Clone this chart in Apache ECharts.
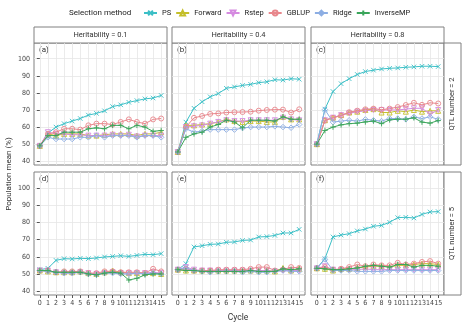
<!DOCTYPE html>
<html><head><meta charset="utf-8">
<script src="https://cdn.jsdelivr.net/npm/echarts@6/dist/echarts.min.js"></script>
<style>html,body{margin:0;padding:0;background:#fff}#c{width:474px;height:327px}</style>
</head><body><div id="c"></div>
<script>
const cycles = [0,1,2,3,4,5,6,7,8,9,10,11,12,13,14,15];
const yTicks = [40,50,60,70,80,90,100];
const methods = ['PS','Forward','Rstep','GBLUP','Ridge','InverseMP'];
const heritability = ['Heritability = 0.1','Heritability = 0.4','Heritability = 0.8'];
const qtlLabels = ['QTL number = 2','QTL number = 5'];
const panelLabels = ['(a)','(b)','(c)','(d)','(e)','(f)'];

// panel (a): heritability 0.1, QTL 2
const a_PS        = [49,56.5,60,62,63.5,65,67,68,69.5,72,73,74.5,75.5,76.5,77,78.5];
const a_Forward   = [49,56,55,56,56,56,55,55,55.5,56,56,56,55,56,56,57];
const a_Rstep     = [49,57,56,56,55.5,55.5,55,55,55,55.5,55,55.5,54.5,55,55,55];
const a_GBLUP     = [49,56,57,59,59,58.5,61,62,62,61.5,63,64.5,63,62,64.5,65];
const a_Ridge     = [49,54,53,53,53,54,54,55,54,55,55,55,54,55,55,54];
const a_InverseMP = [49,55,55,57,57,57,59,59.5,59,61,61,59,61,60,57.5,58];
// panel (b): heritability 0.4, QTL 2
const b_PS        = [45.4,62.9,71,74.8,77.7,79.6,82.7,83.5,84.4,85,86,86.5,87.7,87.5,88.3,88];
const b_Forward   = [45.4,61,61,61.5,62,63,64.5,63.5,63,63.5,63.5,63,63,66,64.5,64.5];
const b_Rstep     = [45.4,60,60.5,61,62,63,64,63.5,63.5,64,64,64,64,65.5,64.5,64];
const b_GBLUP     = [45.4,60,65.4,66.5,67.7,68,68.5,68.7,68.8,69,69.6,70,70.2,70.2,68.5,70.4];
const b_Ridge     = [45.4,59,57,57.7,58.5,58.5,58.5,58.5,59.4,60,60,60,60.4,60,59.6,61.5];
const b_InverseMP = [45.4,54,56,57,60,61.5,64,63,59.6,64,64,64,63.5,66,64.6,64.6];
// panel (c): heritability 0.8, QTL 2
const c_PS        = [50,70.5,80.8,85.4,88.3,90.8,92.5,93.3,94,94.4,94.6,95,95.2,95.6,95.6,95.4];
const c_Forward   = [50,64,65.5,67,68.5,69,70,70.5,68.5,68.5,69.5,69,70,69,69.5,69.5];
const c_Rstep     = [50,64,65.5,67,68,69,69.5,70,70,70,70,70.5,71,71,67.5,70];
const c_GBLUP     = [50,63.8,65.4,66.7,68.7,69.6,70.4,70.8,70.2,70.8,71.7,72.9,74.2,73,74.2,73.8];
const c_Ridge     = [50,70.2,62.9,63.5,64,63.5,64.5,64,63.5,65,65,64.5,66,65,66,64.5];
const c_InverseMP = [50,58,60,61.3,62,62.3,63,63.5,62,64.2,64.6,64.6,65.4,62.9,62.3,63.8];
// panel (d): heritability 0.1, QTL 5
const d_PS        = [52.5,53.3,57.9,58.9,58.7,59.1,58.9,59.3,59.9,60.2,60.6,60.2,60.8,61.4,61.2,61.8];
const d_Forward   = [52,51.5,51,51,51,51.5,50.5,50,51,52,51,50.5,50.5,50.5,50.5,50];
const d_Rstep     = [52,52,51,50.5,50.5,51,50.5,50,50.5,51,50.5,50.5,50.5,50.5,51,50.5];
const d_GBLUP     = [52,52,51,51.5,51.5,51.5,50.5,50.5,51.5,51.5,51,51,51,50.5,53,51.5];
const d_Ridge     = [52,51.5,51,50.5,50.5,51,50,49.5,50.5,50.5,50,50,50.5,50,50.5,50];
const d_InverseMP = [52,52,51,51,51,51,50,49.5,50.5,51,50.5,46.5,47.5,49.5,50,50];
// panel (e): heritability 0.4, QTL 5
const e_PS        = [52.5,56,65.7,66.4,67.2,67.4,68.4,68.6,69.5,69.7,71.5,71.7,72.4,73.8,73.8,75.9];
const e_Forward   = [52.5,52,52,52,52,52,52,52,52,52,52,52,51.5,53.5,52,53];
const e_Rstep     = [52.5,54,52.5,52,52,52,52,52,52,52,52,52,51.5,52,52,52];
const e_GBLUP     = [52.5,53,52,52,52,52.5,52.5,52.5,52.5,53,54,54,52,52.5,54,53.5];
const e_Ridge     = [52.5,53.5,52,51.5,51,51.5,51.5,51.5,51,51.5,51,51,51.5,52,51.5,51.5];
const e_InverseMP = [52.5,52,52,51.5,51.5,51.5,51.5,51.5,51.5,52,51.5,51.5,51.5,53,52.5,53];
// panel (f): heritability 0.8, QTL 5
const f_PS        = [53.3,58.9,71.5,72.6,73.4,75,76.1,77.7,78.2,80,82.7,82.9,82.5,84.6,86,86.2];
const f_Forward   = [53.3,53,52,53,53,53.5,54,54.5,54.5,54,55,55,55.5,56,56,55.5];
const f_Rstep     = [53.3,54.5,52.5,52.5,52.5,52.5,53,52.5,52.5,52.5,52.5,52.5,52.5,52.5,52.5,52.5];
const f_GBLUP     = [53.3,54,52.5,53,54,55.5,54.5,55.5,55,55,56.5,55.5,56,57,57.5,56];
const f_Ridge     = [53.3,58.5,52,52,52,51.5,51.5,51.5,51.5,52,52,52,52,52,52,52];
const f_InverseMP = [53.3,53,52.5,52.5,53,53.5,54.5,55,54.5,54,55.5,55.5,54,55,55,54.5];

const panels = [
  [a_PS,a_Forward,a_Rstep,a_GBLUP,a_Ridge,a_InverseMP],
  [b_PS,b_Forward,b_Rstep,b_GBLUP,b_Ridge,b_InverseMP],
  [c_PS,c_Forward,c_Rstep,c_GBLUP,c_Ridge,c_InverseMP],
  [d_PS,d_Forward,d_Rstep,d_GBLUP,d_Ridge,d_InverseMP],
  [e_PS,e_Forward,e_Rstep,e_GBLUP,e_Ridge,e_InverseMP],
  [f_PS,f_Forward,f_Rstep,f_GBLUP,f_Ridge,f_InverseMP]
];

const colors = ['#3CBFC6','#C4BF2A','#D58BE0','#E8878C','#8DAEE3','#3AA55A'];
const symbols = [
  'path://M0,0L10,10M10,0L0,10',
  'path://M5,0L10,9L0,9Z',
  'path://M0,0L10,0L5,9Z',
  'circle',
  'path://M5,0L10,5L5,10L0,5Z',
  'path://M5,0L5,10M0,5L10,5'
];
const symSizes = [4.5,5,5,5,5.5,5.5];

const FONT = 'Roboto';
const NARROW = '"DejaVu Sans Condensed", "Liberation Sans Narrow", Roboto, sans-serif';
const colX = [34,172,311];
const W = 133;
const rowY = [43,172];
const rowH = [122,123];

const grids = [], xAxes = [], yAxes = [], series = [], graphics = [];
for (let p = 0; p < 6; p++) {
  const r = Math.floor(p/3), c = p%3;
  grids.push({left: colX[c], top: rowY[r], width: W, height: rowH[r], show: true,
    borderColor: '#808080', borderWidth: 1, backgroundColor: '#fff', containLabel: false});
  xAxes.push({type: 'value', gridIndex: p, min: -0.72, max: 15.72,
    axisLine: {show: false},
    axisTick: {show: r === 1, customValues: cycles, length: 3, lineStyle: {color: '#555'}},
    axisLabel: {show: r === 1, customValues: cycles, fontSize: 7, color: '#444', margin: 5,
      fontFamily: NARROW, hideOverlap: false, showMinLabel: true, showMaxLabel: true},
    splitLine: {show: true, lineStyle: {color: '#e6e6e6', width: 0.8}}
  });
  yAxes.push({type: 'value', gridIndex: p, min: 37.8, max: 109.2,
    axisLine: {show: false},
    axisTick: {show: c === 0, customValues: yTicks, length: 3, lineStyle: {color: '#555'}},
    axisLabel: {show: c === 0, customValues: yTicks, fontSize: 7, color: '#444', margin: 4, fontFamily: NARROW},
    splitLine: {show: true, lineStyle: {color: '#e6e6e6', width: 0.8}}
  });
  for (let m = 0; m < 6; m++) {
    series.push({
      type: 'line', name: methods[m], xAxisIndex: p, yAxisIndex: p,
      data: cycles.map((cy, i) => [cy, panels[p][m][i]]),
      symbol: symbols[m], symbolSize: symSizes[m], showAllSymbol: true,
      lineStyle: {color: colors[m], width: 1},
      itemStyle: {color: 'rgba(255,255,255,0)', borderColor: colors[m], borderWidth: 0.9},
      emphasis: {disabled: true}, animation: false, z: 2 + m
    });
  }
  graphics.push({type: 'text', left: colX[c] + 5, top: rowY[r] + 3,
    style: {text: panelLabels[p], fontSize: 8, fill: '#333', fontFamily: FONT}});
}
// column strips
for (let c = 0; c < 3; c++) {
  graphics.push({type: 'rect', shape: {x: colX[c], y: 27, width: W, height: 16},
    style: {fill: '#fff', stroke: '#808080', lineWidth: 1}});
  graphics.push({type: 'text', x: colX[c] + W/2, y: 35,
    style: {text: heritability[c], fontSize: 7.5, fill: '#333', fontFamily: FONT, align: 'center', verticalAlign: 'middle'}});
}
// row strips
for (let r = 0; r < 2; r++) {
  graphics.push({type: 'rect', shape: {x: 444, y: rowY[r], width: 17, height: rowH[r]},
    style: {fill: '#fff', stroke: '#808080', lineWidth: 1}});
  graphics.push({type: 'text', x: 452.5, y: rowY[r] + rowH[r]/2, rotation: Math.PI/2,
    style: {text: qtlLabels[r], fontSize: 7.5, fill: '#333', fontFamily: FONT, align: 'center', verticalAlign: 'middle'}});
}
graphics.push({type: 'text', x: 9, y: 174, rotation: Math.PI/2,
  style: {text: 'Population mean (%)', fontSize: 8, fill: '#333', fontFamily: FONT, align: 'center', verticalAlign: 'middle'}});
graphics.push({type: 'text', x: 238, y: 318,
  style: {text: 'Cycle', fontSize: 8.5, fill: '#333', fontFamily: FONT, align: 'center', verticalAlign: 'middle'}});
graphics.push({type: 'text', x: 69, y: 13,
  style: {text: 'Selection method', fontSize: 8, fill: '#222', fontFamily: FONT, verticalAlign: 'middle'}});

const chart = echarts.init(document.getElementById('c'), null, {renderer: 'canvas'});
chart.setOption({
  animation: false,
  backgroundColor: '#fff',
  legend: {data: methods, left: 143, top: 9, width: 330, padding: 0, itemWidth: 13, itemHeight: 6, itemGap: 4,
    textStyle: {fontSize: 7.5, color: '#222', fontFamily: FONT}},
  grid: grids, xAxis: xAxes, yAxis: yAxes, series: series, graphic: graphics
});
</script></body></html>
